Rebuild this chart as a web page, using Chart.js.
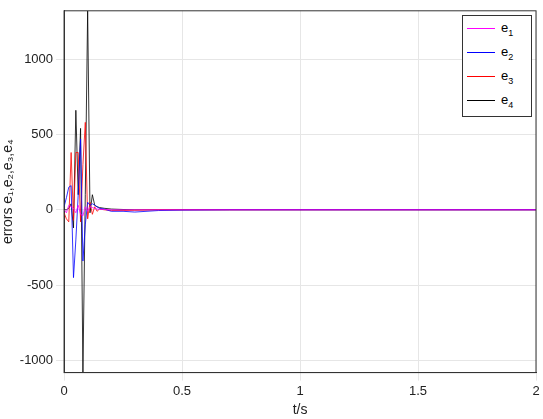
<!DOCTYPE html><html><head><script src="https://cdn.jsdelivr.net/npm/chart.js@4"></script>
<style>body{margin:0;background:#fff;font-family:Arial,"Liberation Sans",sans-serif}#w{position:relative;width:543px;height:419px}
#lg{position:absolute;left:462px;top:15px;width:68px;height:100px;border:1px solid #333;background:#fff;font-size:13px}
#lg div{height:24px;line-height:24px;white-space:nowrap}#lg i{display:inline-block;width:28px;height:0;border-top:1px solid;margin:0 6px 0 4px;vertical-align:middle}#lg sub{font-size:9px}</style></head><body>
<div id="w"><canvas id="c" width="543" height="419"></canvas>
<div id="lg"><div><i style="border-color:#ff00ff"></i>e<sub>1</sub></div><div><i style="border-color:#0000ff"></i>e<sub>2</sub></div><div><i style="border-color:#ff0000"></i>e<sub>3</sub></div><div><i style="border-color:#000"></i>e<sub>4</sub></div></div></div>
<script>
const t=[0,0.01,0.02,0.03,0.04,0.05,0.06,0.07,0.08,0.09,0.10,0.11,0.12,0.13,0.14,0.15,0.17,0.2,0.25,0.3,0.4,0.5,0.7,1,1.5,2];
const e1=[0,-20,30,20,10,-20,30,-30,-40,20,-10,20,15,10,5,3,2,0,0,0,0,0,0,0,0,0];
const e2=[20,80,150,160,-450,-200,100,470,-340,-100,50,30,40,30,20,10,5,-10,-10,-15,-5,-2,0,0,0,0];
const e3=[-20,-60,-80,380,-70,380,380,-80,300,580,-60,50,-30,20,-10,5,0,-5,-5,-3,0,0,0,0,0,0];
const e4=[0,0,10,40,-120,660,100,540,-1080,100,1320,-20,100,30,20,15,10,5,2,0,0,0,0,0,0,0];
const yTicks=[-1000,-500,0,500,1000];
const xTicks=[0,0.5,1,1.5,2];
const mk=(d,c)=>({data:t.map((x,i)=>({x,y:d[i]})),borderColor:c,borderWidth:0.8,pointRadius:0,tension:0,showLine:true});
const frame={id:'frame',afterDraw(c){const a=c.chartArea,x=c.ctx;x.save();x.strokeStyle='#333';x.lineWidth=1;x.strokeRect(a.left,a.top,a.right-a.left,a.bottom-a.top);x.restore();}};
new Chart(document.getElementById('c'),{type:'scatter',data:{datasets:[mk(e1,'#ff00ff'),mk(e2,'#0000ff'),mk(e3,'#ff0000'),mk(e4,'#000000')]},plugins:[frame],
options:{responsive:false,animation:false,layout:{padding:{top:2,right:7}},plugins:{legend:{display:false},tooltip:{enabled:false}},
scales:{x:{type:'linear',min:0,max:2,afterBuildTicks:a=>{a.ticks=xTicks.map(v=>({value:v}))},ticks:{color:'#222',font:{size:13},maxRotation:0,callback:v=>String(v)},grid:{color:'#e6e6e6'},border:{color:'#333'},title:{display:true,text:'t/s',color:'#222',font:{size:14},padding:0}},
y:{min:-1080,max:1320,afterBuildTicks:a=>{a.ticks=yTicks.map(v=>({value:v}))},ticks:{color:'#222',font:{size:13},callback:v=>String(v)},grid:{color:'#e6e6e6'},border:{color:'#333'},title:{display:true,text:'errors e₁,e₂,e₃,e₄',color:'#222',font:{size:14},padding:0}}}}});
</script></body></html>
